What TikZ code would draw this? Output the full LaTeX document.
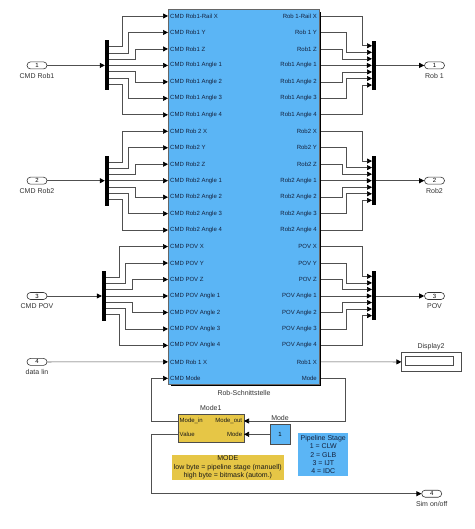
\documentclass[tikz,border=0pt]{standalone}
\usepackage{fontspec}
\setmainfont{Liberation Sans}
\usetikzlibrary{arrows.meta}
\definecolor{blkblue}{HTML}{5BB5F5}
\definecolor{ylw}{HTML}{E6C646}
\definecolor{wirec}{HTML}{505050}
\definecolor{ptxt}{HTML}{14213D}
\tikzset{
  wire/.style={draw=wirec, line width=0.7pt},
  arr/.style={wire, -{Triangle[length=5pt,width=5pt,color=black]}},
  plbl/.style={font=\fontsize{6}{7}\selectfont, text=ptxt, inner sep=0pt},
  lbl/.style={font=\fontsize{7}{8}\selectfont, text=black!80, inner sep=0pt},
  ioport/.style={draw=black!80, line width=0.6pt, fill=white, rounded corners=3.5pt, minimum width=20pt, minimum height=7pt, inner sep=0pt, font=\fontsize{6}{6}\selectfont},
  busbar/.style={fill=black, draw=none, minimum width=4pt, inner sep=0pt},
  mainblk/.style={draw=black!60, line width=0.5pt, fill=blkblue, inner sep=0pt},
  ylwblk/.style={draw=black!70, line width=0.8pt, fill=ylw, inner sep=0pt},
  note/.style={inner sep=0pt, align=center, text=black!90},
  dispbox/.style={draw=black!70, line width=0.6pt, fill=white, inner sep=0pt}
}
\begin{document}
\begin{tikzpicture}[x=1pt,y=-1pt]
\useasboundingbox (0,0) rectangle (474,529);
\fill[white] (0,0) rectangle (474,529);

% main block with shadow
\fill[black] (170.5,12) rectangle (321,386);
\node[mainblk, minimum width=150.5pt, minimum height=374pt, anchor=north west] (rob) at (168,9.5) {};
\node[lbl] (robname) at (244,393.3) {Rob-Schnittstelle};

% ports
\foreach \i/\l/\r in {
 0/CMD Rob1-Rail X/Rob 1-Rail X, 1/CMD Rob1 Y/Rob 1 Y, 2/CMD Rob1 Z/Rob1 Z,
 3/CMD Rob1 Angle 1/Rob1 Angle 1, 4/CMD Rob1 Angle 2/Rob1 Angle 2,
 5/CMD Rob1 Angle 3/Rob1 Angle 3, 6/CMD Rob1 Angle 4/Rob1 Angle 4,
 7/CMD Rob 2 X/Rob2 X, 8/CMD Rob2 Y/Rob2 Y, 9/CMD Rob2 Z/Rob2 Z,
 10/CMD Rob2 Angle 1/Rob2 Angle 1, 11/CMD Rob2 Angle 2/Rob2 Angle 2,
 12/CMD Rob2 Angle 3/Rob2 Angle 3, 13/CMD Rob2 Angle 4/Rob2 Angle 4,
 14/CMD POV X/POV X, 15/CMD POV Y/POV Y, 16/CMD POV Z/POV Z,
 17/CMD POV Angle 1/POV Angle 1, 18/CMD POV Angle 2/POV Angle 2,
 19/CMD POV Angle 3/POV Angle 3, 20/CMD POV Angle 4/POV Angle 4,
 21/CMD Rob 1 X/Rob1 X, 22/CMD Mode/Mode}{
  \pgfmathsetmacro\yy{16+16.47*\i}
  \coordinate (L\i) at (168,\yy);
  \coordinate (R\i) at (321,\yy);
  \node[plbl, anchor=west] (pl\i) at (170,\yy) {\l};
  \node[plbl, anchor=east] (pr\i) at (317,\yy) {\r};
}

% left inports and demuxes
\foreach \g/\b/\bx/\nm in {1/0/107/CMD Rob1, 2/7/107/CMD Rob2, 3/14/104/CMD POV}{
  \pgfmathsetmacro\yc{16+16.47*(\b+3)}
  \pgfmathtruncatemacro\pc{\b+3}
  \node[ioport] (in\g) at (37,\yc) {\g};
  \node[lbl] (inl\g) at (37,\yc+10.5) {\nm};
  \node[busbar, minimum height=50pt] (dm\g) at (\bx,\yc) {};
  \draw[arr] (in\g) -- (dm\g);
  \draw[arr] (dm\g.east) -- (L\pc);
  \foreach \k/\off in {0/13,1/19.5,2/26,4/26,5/19.5,6/13}{
    \pgfmathtruncatemacro\p{\b+\k}
    \coordinate (dmo\g-\k) at (\bx+2,\yc+6.25*\k-18.75);
    \draw[arr] (dmo\g-\k) -- ++(\off,0) |- (L\p);
  }
}

% right muxes and outports
\foreach \g/\b/\nm in {1/0/Rob 1, 2/7/Rob2, 3/14/POV}{
  \pgfmathsetmacro\yc{16+16.47*(\b+3)}
  \pgfmathtruncatemacro\pc{\b+3}
  \node[busbar, minimum height=49pt] (mx\g) at (374,\yc) {};
  \node[ioport] (out\g) at (434.5,\yc) {\g};
  \node[lbl] (outl\g) at (434.5,\yc+10.5) {\nm};
  \draw[arr] (mx\g) -- (out\g);
  \draw[arr] (R\pc) -- (mx\g.west);
  \foreach \k/\off in {0/41,1/25,2/21,4/21,5/25,6/41}{
    \pgfmathtruncatemacro\p{\b+\k}
    \coordinate (mxi\g-\k) at (372,\yc+6.55*\k-19.65);
    \draw[arr] (R\p) -- ++(\off,0) |- (mxi\g-\k);
  }
}

% data lin
\node[ioport] (in4) at (37,361.9) {4};
\node[lbl] (inl4) at (37,372.4) {data lin};
\draw[arr] (in4) -- (L21);

% Display2
\node[dispbox, minimum width=59.3pt, minimum height=18.6pt] (disp) at (431.35,361.9) {};
\node[dispbox, minimum width=48pt, minimum height=8.7pt, anchor=north west] (dispin) at (404.7,356) {};
\node[lbl] (displbl) at (431,346.7) {Display2};
\draw[arr] (R21) -- (disp.west);

% Mode1 block
\node[ylwblk, minimum width=66.3pt, minimum height=27.4pt, anchor=north west] (mode1) at (177.7,414.3) {};
\node[lbl] (mode1lbl) at (210.8,408.3) {Mode1};
\coordinate (m1o1) at (244,421);
\coordinate (m1o2) at (244,434.3);
\coordinate (m1i1) at (177.7,421);
\coordinate (m1i2) at (177.7,434.3);
\node[plbl, text=black!90, anchor=west] (m1a) at (179.5,421) {Mode\_in};
\node[plbl, text=black!90, anchor=west] (m1b) at (179.5,434.3) {Value};
\node[plbl, text=black!90, anchor=east] (m1c) at (242.3,421) {Mode\_out};
\node[plbl, text=black!90, anchor=east] (m1d) at (242.3,434.3) {Mode};

% constant
\node[draw=black!70, line width=0.6pt, fill=blkblue, minimum width=20pt, minimum height=20pt, inner sep=0pt, font=\fontsize{6}{6}\selectfont] (const) at (280,434.3) {1};
\node[lbl] (constlbl) at (280,417.6) {Mode};

% wires around Mode1
\draw[arr] (R22) -- ++(24.7,0) |- (m1o1);
\draw[arr] (const) -- (m1o2);
\draw[arr] (m1i1) -- ++(-26,0) |- (L22);
\node[ioport] (simout) at (431.7,493.7) {4};
\node[lbl] (simlbl) at (431.7,504) {Sim on/off};
\draw[arr] (m1i2) -- ++(-26,0) |- (simout.west);

% notes
\node[note, fill=ylw, minimum width=112.3pt, minimum height=25.3pt, font=\fontsize{7}{8.5}\selectfont] (modenote) at (227.8,467.4) {MODE\\low byte = pipeline stage (manuell)\\high byte = bitmask (autom.)};
\node[note, fill=blkblue, minimum width=50pt, minimum height=42.4pt, font=\fontsize{7}{8.4}\selectfont, text=ptxt] (pipenote) at (323.3,454.5) {Pipeline Stage\\1 = CLW\\2 = GLB\\3 = IJT\\4 = IDC};
\end{tikzpicture}
\end{document}
